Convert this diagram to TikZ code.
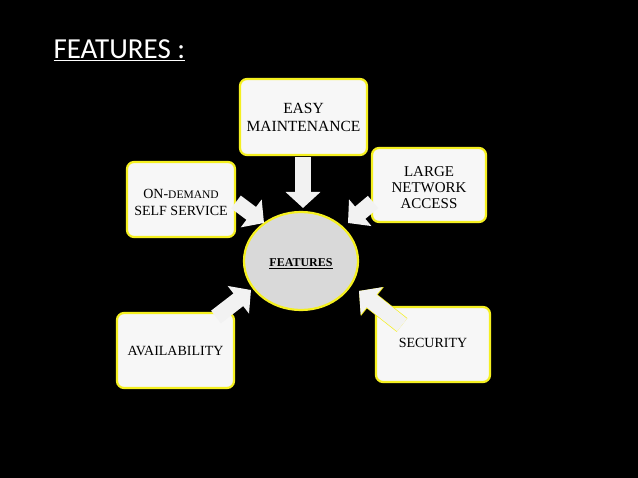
\documentclass[tikz,border=0pt]{standalone}
\usepackage{fontspec}
\setmainfont{Liberation Serif}
\newfontfamily\titlefont{Carlito}
\usetikzlibrary{arrows.meta,calc,shapes.geometric}
\definecolor{boxfill}{HTML}{F7F7F7}
\definecolor{edgeyellow}{HTML}{F5F020}
\definecolor{ellfill}{HTML}{D9D9D9}
\definecolor{arrfill}{HTML}{F2F2F2}
\begin{document}
\begin{tikzpicture}[x=1pt,y=-1pt,
  featbox/.style={draw=edgeyellow, line width=2.2pt, fill=boxfill, rounded corners=7pt,
    inner sep=0pt, align=center, text=black},
  blockarr/.style={draw=arrfill, line width=16pt, -{Triangle[length=16pt,width=34pt]}},
  blockedge/.style={draw=edgeyellow, line width=17.4pt, -{Triangle[length=17pt,width=36pt]}}]
\fill[black] (0,0) rectangle (638,478);
\useasboundingbox (0,0) rectangle (638,478);

\node[anchor=base west, text=white, font=\titlefont\fontsize{29}{30}\selectfont] (title) at (50,59)
  {\underline{FEATURES :}};

\node[featbox, minimum width=127pt, minimum height=76pt, font=\fontsize{15.5}{18}\selectfont] (easy) at (303.5,117)
  {EASY\\MAINTENANCE};
\node[featbox, minimum width=108pt, minimum height=75pt, font=\fontsize{14}{17}\selectfont] (ondem) at (181,199.5)
  {\raisebox{-3pt}[\height][\depth]{\parbox{100pt}{\centering ON-{\fontsize{11.5}{17}\selectfont DEMAND}\\SELF SERVICE}}};
\node[featbox, minimum width=114pt, minimum height=74pt, font=\fontsize{15}{16}\selectfont] (large) at (429,185)
  {\raisebox{-3pt}[\height][\depth]{\parbox{100pt}{\centering LARGE\\NETWORK\\ACCESS}}};
\node[featbox, minimum width=117pt, minimum height=75pt, font=\fontsize{14}{16}\selectfont] (avail) at (175.5,350.5)
  {AVAILABILITY};
\node[featbox, minimum width=114pt, minimum height=75pt, font=\fontsize{14}{16}\selectfont] (secur) at (433,344.5)
  {\raisebox{2pt}[\height][\depth]{SECURITY}};
\node[ellipse, draw=edgeyellow, line width=2.2pt, fill=ellfill, minimum width=114pt, minimum height=98pt,
  inner sep=0pt, font=\bfseries\fontsize{12}{14}\selectfont] (feat) at (301,261)
  {\raisebox{-3pt}[\height][\depth]{\underline{FEATURES}}};

\coordinate (e1) at (303,157);   \coordinate (e2) at (303,208);
\coordinate (o1) at (236,202);   \coordinate (o2) at (264,223);
\coordinate (l1) at (373,202);   \coordinate (l2) at (348,223);
\coordinate (a1) at (216,317);   \coordinate (a2) at (251,290);
\coordinate (s1) at (402,325);   \coordinate (s2) at (359,291);

\draw[blockarr] (e1) -- (e2);
\draw[blockarr] (o1) -- (o2);
\draw[blockarr] (l1) -- (l2);
\draw[blockarr] (a1) -- (a2);
\draw[blockedge] (s1) -- (s2);
\draw[blockarr] (s1) -- (s2);
\end{tikzpicture}
\end{document}
